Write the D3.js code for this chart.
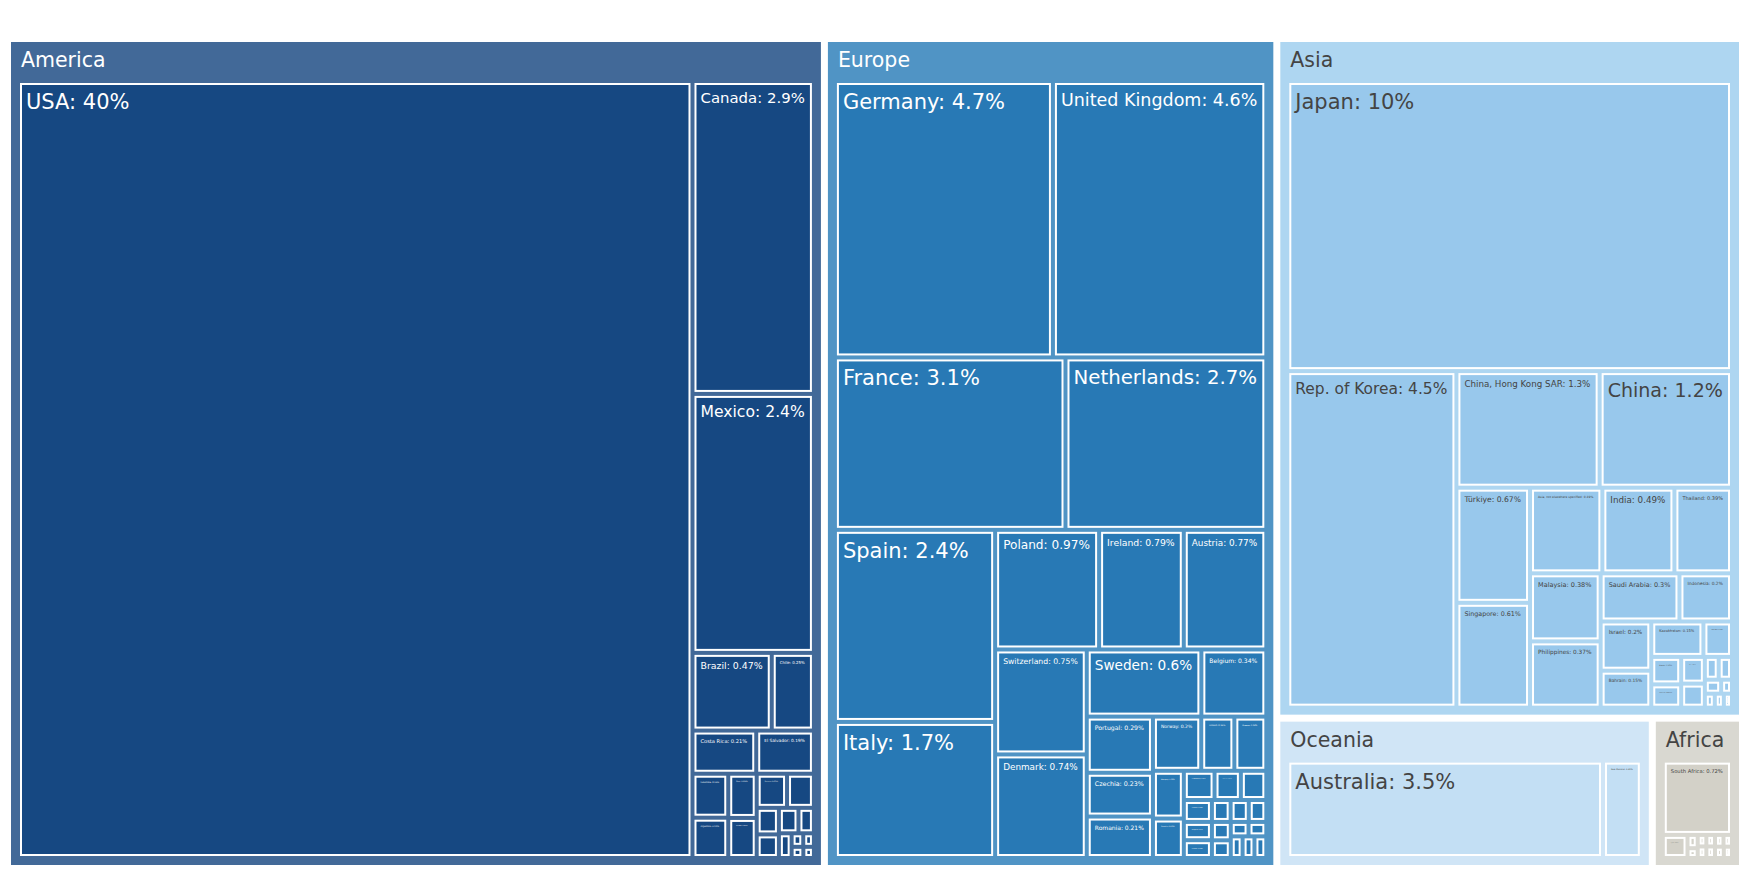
<!DOCTYPE html>
<html>
<head>
<meta charset="utf-8">
<script src="https://cdn.jsdelivr.net/npm/d3@7"></script>
<style>
  body { margin: 0; background: #fff; }
  svg { display: block; }
  text { font-family: "DejaVu Sans", sans-serif; }
</style>
</head>
<body>
<svg></svg>
<script>
// data (share of total, %)

const regions = ["America", "Europe", "Asia", "Oceania", "Africa"];

const americaNames = ["USA", "Canada", "Mexico", "Brazil", "Chile", "Costa Rica", "El Salvador",
  "Colombia", "Argentina", "Peru", "Ecuador", "Panama", "Dominican Rep.", "Guatemala", "Uruguay",
  "Honduras", "Jamaica", "Paraguay", "Bolivia", "Nicaragua", "Trinidad and Tobago", "Bahamas"];
const americaValues = [40, 2.9, 2.4, 0.47, 0.25, 0.21, 0.19,
  0.12, 0.11, 0.096, 0.087, 0.079, 0.07, 0.045, 0.04,
  0.038, 0.03, 0.024, 0.012, 0.011, 0.01, 0.009];

const europeNames = ["Germany", "United Kingdom", "France", "Netherlands", "Spain", "Italy",
  "Poland", "Ireland", "Austria", "Switzerland", "Denmark", "Sweden", "Belgium", "Portugal",
  "Czechia", "Romania", "Norway", "Finland", "Greece", "Hungary", "Slovakia", "Luxembourg",
  "Lithuania", "Slovenia", "Croatia", "Bulgaria", "Estonia", "Latvia", "Ukraine", "Serbia",
  "Iceland", "Malta", "Cyprus", "Belarus", "Bosnia Herzegovina", "North Macedonia", "Albania"];
const europeValues = [4.7, 4.6, 3.1, 2.7, 2.4, 1.7,
  0.97, 0.79, 0.77, 0.75, 0.74, 0.6, 0.34, 0.29,
  0.226, 0.214, 0.204, 0.14, 0.135, 0.115, 0.095, 0.07,
  0.06, 0.058, 0.048, 0.04, 0.039, 0.032, 0.031, 0.03,
  0.027, 0.026, 0.02, 0.02, 0.02, 0.02, 0.02];

const asiaNames = ["Japan", "Rep. of Korea", "China, Hong Kong SAR", "China", "Türkiye", "Singapore",
  "Asia, not elsewhere specified", "India", "Thailand", "Malaysia", "Philippines", "Saudi Arabia",
  "Indonesia", "Israel", "Bahrain", "Kazakhstan", "Viet Nam", "Kuwait", "Pakistan", "Qatar", "Oman",
  "Jordan", "Sri Lanka", "Lebanon", "Bangladesh", "Georgia", "Mongolia", "Uzbekistan"];
const asiaValues = [10.2, 4.5, 1.32, 1.22, 0.67, 0.61,
  0.49, 0.488, 0.39, 0.38, 0.37, 0.3,
  0.2, 0.197, 0.148, 0.146, 0.08, 0.065, 0.055, 0.05, 0.045,
  0.025, 0.024, 0.018, 0.012, 0.011, 0.01, 0.009];

const oceaniaNames = ["Australia", "New Zealand"];
const oceaniaValues = [3.5, 0.43];

const africaNames = ["South Africa", "Egypt", "Morocco", "Nigeria", "Kenya", "Tunisia", "Ghana",
  "Algeria", "Mauritius", "Côte d'Ivoire", "Senegal", "Ethiopia"];
const africaValues = [0.72, 0.08, 0.019, 0.013, 0.014, 0.014, 0.014,
  0.014, 0.014, 0.014, 0.014, 0.014];

const regionNames = [americaNames, europeNames, asiaNames, oceaniaNames, africaNames];
const regionValues = [americaValues, europeValues, asiaValues, oceaniaValues, africaValues];

// colours per region: header / leaf / text
const headerColors = ["#426998", "#5094c5", "#aed6f1", "#d0e5f6", "#d9d8d1"];
const leafColors = ["#164882", "#2879b5", "#98c8ec", "#c3dff4", "#d3d1c8"];
const textColors = ["#ffffff", "#ffffff", "#444444", "#444444", "#444444"];

// dimensions

const margin = { top: 42, right: 11, bottom: 10, left: 11 },
      width = 1750 - margin.left - margin.right,
      height = 875 - margin.top - margin.bottom;

const svg = d3.select("svg")
              .attr("width", 1750)
              .attr("height", 875)
            .append("g")
              .attr("transform", `translate(${margin.left},${margin.top})`);

// hierarchy + layout

const tree = {
  name: "root",
  children: regions.map((r, i) => ({
    name: r, idx: i,
    children: regionNames[i].map((n, j) => ({ name: n, value: regionValues[i][j], idx: i }))
  }))
};

const root = d3.hierarchy(tree)
               .sum(d => d.value || 0)
               .sort((a, b) => b.value - a.value);

d3.treemap()
  .tile(d3.treemapSquarify.ratio(1))
  .size([width, height])
  .paddingInner(d => d.depth === 0 ? 7 : 6)
  .paddingTop(d => d.depth === 1 ? 42 : 0)
  .paddingLeft(d => d.depth === 1 ? 10 : 0)
  .paddingRight(d => d.depth === 1 ? 10 : 0)
  .paddingBottom(d => d.depth === 1 ? 10 : 0)
  (root);

const fmt = d3.format(".2~r");

// region boxes + headers

const groups = svg.selectAll(".region")
  .data(root.children)
  .enter()
  .append("g")
  .attr("class", "region");

groups.append("rect")
  .attr("x", d => d.x0)
  .attr("y", d => d.y0)
  .attr("width", d => d.x1 - d.x0)
  .attr("height", d => d.y1 - d.y0)
  .attr("fill", d => headerColors[d.data.idx]);

groups.append("text")
  .attr("x", d => d.x0 + 10)
  .attr("y", d => d.y0 + 25)
  .attr("font-size", 20.5)
  .attr("fill", d => textColors[d.data.idx])
  .text(d => d.data.name);

// leaves

const leaves = svg.selectAll(".leaf")
  .data(root.leaves())
  .enter()
  .append("g")
  .attr("class", "leaf");

leaves.append("rect")
  .attr("x", d => d.x0)
  .attr("y", d => d.y0)
  .attr("width", d => Math.max(0, d.x1 - d.x0))
  .attr("height", d => Math.max(0, d.y1 - d.y0))
  .attr("fill", d => leafColors[d.data.idx])
  .attr("stroke", "#fff")
  .attr("stroke-width", 2);

// labels shrink to fit the box, top-left
const maxFont = 21;
leaves.append("text")
  .attr("fill", d => textColors[d.data.idx])
  .attr("font-size", maxFont)
  .text(d => `${d.data.name}: ${fmt(d.data.value)}%`)
  .each(function(d) {
    const w = d.x1 - d.x0, h = d.y1 - d.y0;
    const len = this.getComputedTextLength();
    let fs = Math.min(maxFont, maxFont * (w - 11) / len, (h - 6) / 1.2);
    if (fs < 1) { d3.select(this).remove(); return; }
    d3.select(this)
      .attr("font-size", fs)
      .attr("x", d.x0 + 5)
      .attr("y", d.y0 + 4 + fs);
  });
</script>
</body>
</html>
